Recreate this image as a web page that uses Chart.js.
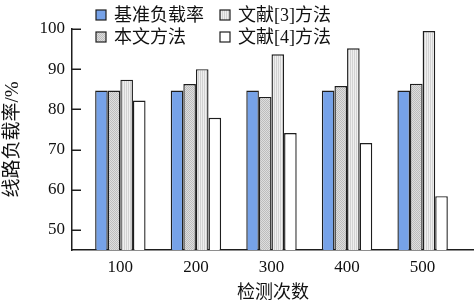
<!DOCTYPE html>
<html>
<head>
<meta charset="utf-8">
<script src="https://cdn.jsdelivr.net/npm/chart.js@4.4.1/dist/chart.umd.min.js"></script>
<style>
  html, body { margin: 0; padding: 0; background: #fff; }
  #wrap { width: 474px; height: 304px; }
</style>
</head>
<body>
<div id="wrap"><canvas id="chart" width="474" height="304"></canvas></div>
<script>
// 检测次数
const categories = [100, 200, 300, 400, 500];
const yTicks = [50, 60, 70, 80, 90, 100];

// 线路负载率 (%)
const baseRate = [84.7, 84.7, 84.7, 84.7, 84.7];   // 基准负载率
const ourMethod = [84.7, 86.3, 83.1, 85.8, 86.4];  // 本文方法
const ref3Method = [87.4, 90.0, 93.7, 95.2, 99.5]; // 文献[3]方法
const ref4Method = [82.2, 77.9, 74.1, 71.6, 58.4]; // 文献[4]方法

const FONT = '"Liberation Serif", "Times New Roman", "Noto Sans CJK SC", serif';
const INK = '#1e1e1e';

// 网点纹理
function dotPattern() {
  const c = document.createElement('canvas');
  c.width = 2; c.height = 2;
  const g = c.getContext('2d');
  g.fillStyle = '#dedede';
  g.fillRect(0, 0, 2, 2);
  g.fillStyle = '#bdbdbd';
  g.fillRect(0, 0, 1, 1);
  g.fillRect(1, 1, 1, 1);
  return g.createPattern(c, 'repeat');
}

// 竖条纹理
function stripePattern() {
  const c = document.createElement('canvas');
  c.width = 2; c.height = 2;
  const g = c.getContext('2d');
  g.fillStyle = '#efefef';
  g.fillRect(0, 0, 2, 2);
  g.fillStyle = '#d2d2d2';
  g.fillRect(0, 0, 1, 2);
  return g.createPattern(c, 'repeat');
}

const toPoints = arr => arr.map((v, i) => ({ x: categories[i], y: v }));

// y轴刻度线朝内
const innerTicks = {
  id: 'innerTicks',
  afterDraw(chart) {
    const s = chart.scales.y;
    const ctx = chart.ctx;
    const x0 = chart.chartArea.left;
    ctx.save();
    ctx.strokeStyle = INK;
    ctx.lineWidth = 1.5;
    s.ticks.forEach(t => {
      const y = Math.round(s.getPixelForValue(t.value)) + 0.25;
      ctx.beginPath();
      ctx.moveTo(x0, y);
      ctx.lineTo(x0 + 9, y);
      ctx.stroke();
    });
    ctx.restore();
  }
};

// 图例画在绘图区上方 (2x2)
const legendOrder = [0, 2, 1, 3];
const insideLegend = {
  id: 'insideLegend',
  afterDraw(chart) {
    const ctx = chart.ctx;
    const cols = [96, 220];
    const rows = [15, 37];
    ctx.save();
    ctx.font = '18px ' + FONT;
    ctx.textBaseline = 'middle';
    ctx.textAlign = 'left';
    legendOrder.forEach((di, k) => {
      const ds = chart.data.datasets[di];
      const x = cols[k % 2];
      const y = rows[Math.floor(k / 2)];
      ctx.fillStyle = ds.backgroundColor;
      ctx.fillRect(x, y - 5, 10, 10);
      ctx.lineWidth = 1.2;
      ctx.strokeStyle = INK;
      ctx.strokeRect(x, y - 5, 10, 10);
      ctx.fillStyle = '#111';
      ctx.fillText(ds.label, x + 18, y + 1);
    });
    ctx.restore();
  }
};

const barStyle = {
  borderColor: INK,
  borderWidth: 1.4,
  borderSkipped: 'bottom',
  categoryPercentage: 0.667,
  barPercentage: 1.0
};

new Chart(document.getElementById('chart'), {
  type: 'bar',
  data: {
    datasets: [
      { label: '基准负载率', data: toPoints(baseRate), backgroundColor: '#76a2e8', ...barStyle },
      { label: '本文方法', data: toPoints(ourMethod), backgroundColor: dotPattern(), ...barStyle },
      { label: '文献[3]方法', data: toPoints(ref3Method), backgroundColor: stripePattern(), ...barStyle },
      { label: '文献[4]方法', data: toPoints(ref4Method), backgroundColor: '#ffffff', ...barStyle }
    ]
  },
  options: {
    responsive: false,
    animation: false,
    devicePixelRatio: 1,
    layout: { padding: { top: 29, right: 0, left: 0, bottom: 0 } },
    plugins: {
      legend: { display: false },
      tooltip: { enabled: false }
    },
    scales: {
      x: {
        type: 'linear',
        offset: false,
        min: 36,
        max: 568,
        afterBuildTicks: axis => { axis.ticks = categories.map(v => ({ value: v })); },
        afterFit: axis => { axis.height = 54; },
        grid: { drawOnChartArea: false, drawTicks: false },
        border: { color: INK, width: 1.5 },
        ticks: { color: '#111', font: { family: FONT, size: 17 }, padding: 7, maxRotation: 0 },
        title: { display: true, text: '检测次数', color: '#111', font: { family: FONT, size: 18 }, padding: { top: 0, bottom: 0 } }
      },
      y: {
        min: 45,
        max: 100,
        afterBuildTicks: axis => { axis.ticks = yTicks.map(v => ({ value: v })); },
        afterFit: axis => { axis.width = 72; },
        grid: { drawOnChartArea: false, drawTicks: false },
        border: { color: INK, width: 1.5 },
        ticks: { color: '#111', font: { family: FONT, size: 17 }, padding: 7 },
        title: { display: true, text: '线路负载率/%', color: '#111', font: { family: FONT, size: 19 }, padding: { top: 2, bottom: 0 } }
      }
    }
  },
  plugins: [innerTicks, insideLegend]
});
</script>
</body>
</html>
